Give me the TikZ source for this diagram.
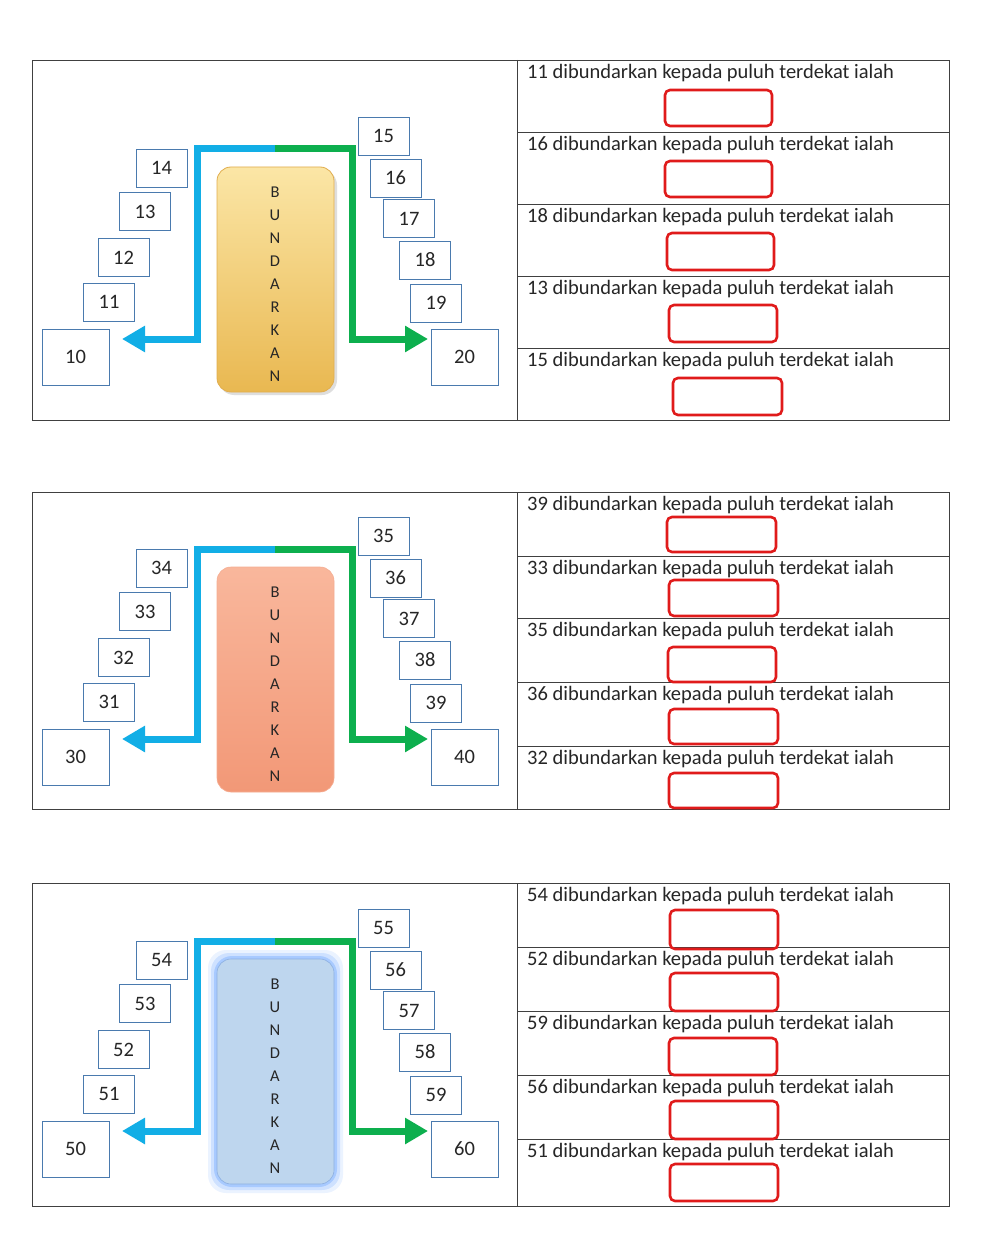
\documentclass[tikz,border=0pt]{standalone}
\usepackage{fontspec}
\setmainfont{Carlito}
\usetikzlibrary{arrows.meta,shapes.misc}
\definecolor{nbord}{HTML}{4A7AAE}
\definecolor{ablue}{HTML}{12AEE6}
\definecolor{agreen}{HTML}{0DAF4E}
\definecolor{rred}{HTML}{E01B1B}
\definecolor{goldt}{HTML}{FBE6A6}
\definecolor{goldb}{HTML}{E9B851}
\definecolor{salt}{HTML}{F9B79C}
\definecolor{salb}{HTML}{F29877}
\begin{document}
\begin{tikzpicture}[x=1pt,y=-1pt,
  nb/.style={draw=nbord,line width=0.8pt,fill=white,font=\fontsize{20.5}{22}\selectfont,text=black!85},
  bigb/.style={nb,minimum width=67pt,minimum height=56pt},
  smb/.style={nb,minimum width=51pt,minimum height=38pt},
  frame/.style={draw=black!75,line width=0.8pt},
  qtxt/.style={anchor=north west,inner sep=0pt,font=\fontsize{20.5}{22}\selectfont,text=black!85},
  rbox/.style={draw=rred,line width=2.6pt,rounded corners=5pt},
  arr/.style={line width=7pt},
  letter/.style={font=\fontsize{16.5}{17}\selectfont,inner sep=0pt,text=black!85}]
\useasboundingbox (0,0) rectangle (1000,1257);
\fill[white] (0,0) rectangle (1000,1257);
\newcommand{\mypanel}[5]{%
 \begin{scope}[yshift=-#1]
  #3
  \foreach \L [count=\i from 0] in {B,U,N,D,A,R,K,A,N}
    \node[letter] (#4let\i) at (275,192+23*\i) {\L};
  \coordinate (#4top) at (275,149);
  \coordinate (#4lc) at (197,149);
  \coordinate (#4ld) at (197,339);
  \coordinate (#4le) at (122,339);
  \coordinate (#4rc) at (352,149);
  \coordinate (#4rd) at (352,339);
  \coordinate (#4re) at (428,339);
  \draw[arr,ablue,-{Triangle[length=23pt,width=25pt]}] (#4top) -- (#4lc) -- (#4ld) -- (#4le);
  \draw[arr,agreen,-{Triangle[length=23pt,width=25pt]}] (#4top) -- (#4rc) -- (#4rd) -- (#4re);
  \pgfmathtruncatemacro\nA{#2}
  \pgfmathtruncatemacro\nB{#2+1}\pgfmathtruncatemacro\nC{#2+2}\pgfmathtruncatemacro\nD{#2+3}
  \pgfmathtruncatemacro\nE{#2+4}\pgfmathtruncatemacro\nF{#2+5}\pgfmathtruncatemacro\nG{#2+6}
  \pgfmathtruncatemacro\nH{#2+7}\pgfmathtruncatemacro\nI{#2+8}\pgfmathtruncatemacro\nJ{#2+9}
  \pgfmathtruncatemacro\nK{#2+10}
  \node[bigb] (#4n0) at (75.5,357) {\nA};
  \node[smb] (#4n1) at (109,302) {\nB};
  \node[smb] (#4n2) at (123.5,257.5) {\nC};
  \node[smb] (#4n3) at (145,211.5) {\nD};
  \node[smb] (#4n4) at (161.5,168) {\nE};
  \node[smb] (#4n5) at (383.5,136) {\nF};
  \node[smb] (#4n6) at (395.5,178) {\nG};
  \node[smb] (#4n7) at (409,218.5) {\nH};
  \node[smb] (#4n8) at (425,260) {\nI};
  \node[smb] (#4n9) at (436,303) {\nJ};
  \node[bigb] (#4n10) at (464.5,357) {\nK};
 \end{scope}
 #5
}
% panel 1
\mypanel{0pt}{10}{%
  \fill[rounded corners=15pt,black!25,opacity=0.5] (219,170) rectangle (337,395);
  \shade[rounded corners=14pt,top color=goldt,bottom color=goldb,draw=goldb!80!brown,line width=0.8pt] (217,167) rectangle (334,392);
}{a}{%
\draw[frame] (32,60) rectangle (949,420);
\draw[frame] (517,60) -- (517,420);
\foreach \y in {132,204,276,348} \draw[frame] (517,\y) -- (949,\y);
\foreach \q/\y [count=\i] in {11/60,16/132,18/204,13/276,15/348}{
  \node[qtxt] (aq\i) at (527,\y+4) {\q{} dibundarkan kepada puluh terdekat ialah};
}
\draw[rbox] (665,90) rectangle (772,126);
\draw[rbox] (665,161) rectangle (772,197);
\draw[rbox] (667,233) rectangle (774,270);
\draw[rbox] (669,305) rectangle (777,342);
\draw[rbox] (673,378) rectangle (782,415);
}
% panel 2
\mypanel{400pt}{30}{%
  \shade[rounded corners=14pt,top color=salt,bottom color=salb,draw=salb!80,line width=0.6pt] (217,167) rectangle (334,392);
}{b}{%
\draw[frame] (32,492) rectangle (949,809);
\draw[frame] (517,492) -- (517,809);
\foreach \y in {556,618,682,746} \draw[frame] (517,\y) -- (949,\y);
\foreach \q/\y [count=\i] in {39/492,33/556,35/618,36/682,32/746}{
  \node[qtxt] (bq\i) at (527,\y+4) {\q{} dibundarkan kepada puluh terdekat ialah};
}
\draw[rbox] (667,517) rectangle (776,552);
\draw[rbox] (669,580) rectangle (778,616);
\draw[rbox] (668,647) rectangle (776,682);
\draw[rbox] (669,709) rectangle (778,744);
\draw[rbox] (669,773) rectangle (778,808);
}
% panel 3
\mypanel{792pt}{50}{%
  \foreach \g/\o in {9/0.08,6/0.12,3/0.18}
    \fill[rounded corners=18pt,blue!60!cyan,opacity=\o] (217-\g,167-\g) rectangle (334+\g,392+\g);
  \fill[rounded corners=14pt,fill={rgb,255:red,190;green,214;blue,238},draw={rgb,255:red,140;green,175;blue,225},line width=0.6pt] (217,167) rectangle (334,392);
}{c}{%
\draw[frame] (32,883) rectangle (949,1206);
\draw[frame] (517,883) -- (517,1206);
\foreach \y in {947,1011,1075,1139} \draw[frame] (517,\y) -- (949,\y);
\foreach \q/\y [count=\i] in {54/883,52/947,59/1011,56/1075,51/1139}{
  \node[qtxt] (cq\i) at (527,\y+4) {\q{} dibundarkan kepada puluh terdekat ialah};
}
\draw[rbox] (670,910) rectangle (778,949);
\draw[rbox] (670,973) rectangle (778,1011);
\draw[rbox] (669,1038) rectangle (777,1075);
\draw[rbox] (670,1101) rectangle (778,1139);
\draw[rbox] (670,1164) rectangle (778,1201);
}
\end{tikzpicture}
\end{document}
